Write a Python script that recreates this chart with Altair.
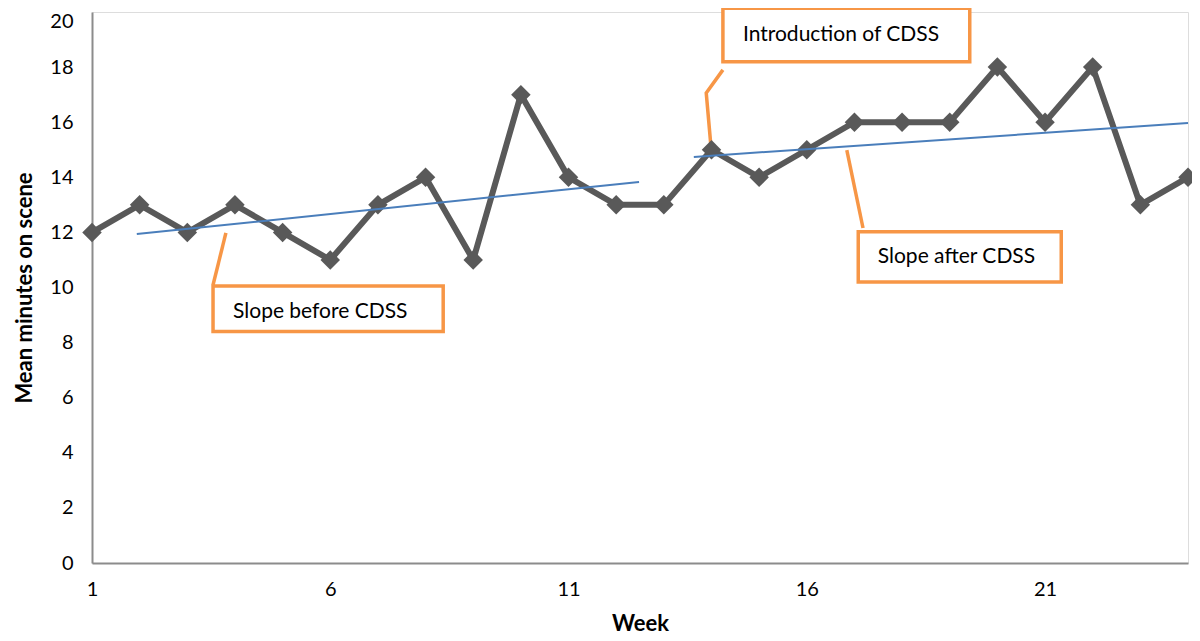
import altair as alt
import pandas as pd

# Data
weeks = list(range(1, 25))
minutes = [12, 13, 12, 13, 12, 11, 13, 14, 11, 17, 14, 13, 13, 15, 14, 15, 16, 16, 16, 18, 16, 18, 13, 14]

# Trend segments (week, minutes)
trend_seg = ["before", "before", "after", "after"]
trend_x = [1.94, 12.48, 13.63, 24.0]
trend_y = [11.94, 13.83, 14.74, 15.97]

# Callouts
callout_text = ["Slope before CDSS", "Introduction of CDSS", "Slope after CDSS"]
box_x1 = [3.54, 14.24, 17.08]
box_x2 = [8.37, 19.42, 21.34]
box_y1 = [8.40, 18.19, 10.20]
box_y2 = [10.05, 20.14, 12.02]
text_x = [3.96, 14.66, 17.49]
text_y = [9.11, 19.16, 11.11]

leader_id = ["a", "a", "b", "b", "b", "c", "c"]
leader_x = [3.54, 3.81, 14.24, 13.89, 13.99, 17.18, 16.84]
leader_y = [10.09, 11.98, 17.90, 17.06, 15.10, 12.16, 14.99]

FONT = "Lato"
ORANGE = "#F79646"

df = pd.DataFrame({"week": weeks, "minutes": minutes})
tdf = pd.DataFrame({"seg": trend_seg, "x": trend_x, "y": trend_y})
bdf = pd.DataFrame({"label": callout_text, "x1": box_x1, "x2": box_x2,
                    "y1": box_y1, "y2": box_y2, "tx": text_x, "ty": text_y})
ldf = pd.DataFrame({"id": leader_id, "x": leader_x, "y": leader_y,
                    "o": list(range(len(leader_x)))})

xscale = alt.Scale(domain=[1, 24], nice=False, zero=False)
yscale = alt.Scale(domain=[0, 20], nice=False)

xaxis = alt.Axis(values=[1, 6, 11, 16, 21], title="Week", grid=False, ticks=False,
                 domainColor="#8c8c8c", domainWidth=2, labelFont=FONT, labelFontSize=20,
                 labelColor="#000000", labelPadding=16, titleFont=FONT, titleFontSize=22,
                 titleFontWeight="bold", titleColor="#000000", titlePadding=14,
                 labelFlush=False)
yaxis = alt.Axis(values=list(range(0, 21, 2)), title="Mean minutes on scene", grid=False,
                 ticks=False, domainColor="#8c8c8c", domainWidth=2, labelFont=FONT,
                 labelFontSize=20, labelColor="#000000", labelPadding=19,
                 labelOffset={"condition": {"test": "datum.value == 20", "value": 9}, "value": 0},
                 titleFont=FONT, titleFontSize=22, titleFontWeight="bold",
                 titleColor="#000000", titlePadding=13)

leaders = alt.Chart(ldf).mark_line(color=ORANGE, strokeWidth=3.5, clip=False).encode(
    x=alt.X("x:Q", scale=xscale, axis=xaxis),
    y=alt.Y("y:Q", scale=yscale, axis=yaxis),
    detail="id:N",
    order="o:Q",
)

line = alt.Chart(df).mark_line(color="#595959", strokeWidth=6).encode(
    x=alt.X("week:Q", scale=xscale),
    y=alt.Y("minutes:Q", scale=yscale),
)
points = alt.Chart(df).mark_point(shape="diamond", filled=True, color="#595959",
                                  size=380, opacity=1).encode(
    x=alt.X("week:Q", scale=xscale),
    y=alt.Y("minutes:Q", scale=yscale),
)

trend = alt.Chart(tdf).mark_line(color="#4A7EBB", strokeWidth=2).encode(
    x=alt.X("x:Q", scale=xscale),
    y=alt.Y("y:Q", scale=yscale),
    detail="seg:N",
)

boxes = alt.Chart(bdf).mark_rect(fill="white", stroke=ORANGE, strokeWidth=3.5,
                                 clip=False).encode(
    x=alt.X("x1:Q", scale=xscale), x2="x2:Q",
    y=alt.Y("y1:Q", scale=yscale), y2="y2:Q",
)
texts = alt.Chart(bdf).mark_text(align="left", baseline="middle", font=FONT,
                                 fontSize=21, color="#000000", clip=False).encode(
    x=alt.X("tx:Q", scale=xscale),
    y=alt.Y("ty:Q", scale=yscale),
    text="label:N",
)

chart = alt.layer(leaders, line, points, trend, boxes, texts).properties(
    width=1096, height=551,
    autosize=alt.AutoSizeParams(type="none"),
    padding={"left": 84, "top": 4, "right": 4, "bottom": 76},
).configure_view(stroke=None).configure(background="white")

chart.save("out.html", embed_options={"renderer": "svg", "actions": False})
